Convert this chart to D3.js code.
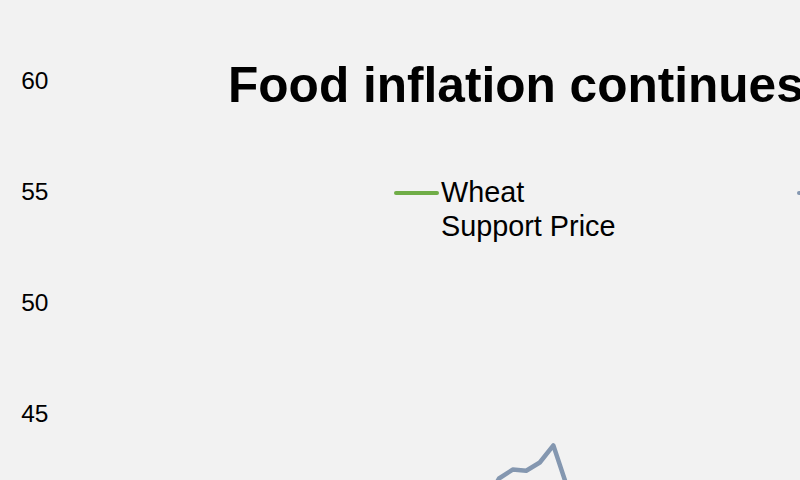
<!DOCTYPE html>
<html>
<head>
    <meta charset="utf-8">
    <title>Food inflation continues</title>
    <script src="https://cdn.jsdelivr.net/npm/d3@7"></script>
    <style>
        html, body { margin: 0; padding: 0; background: #F2F2F2; overflow: hidden; }
        svg { display: block; font-family: "Liberation Sans", Arial, sans-serif; }
        .title { font-size: 49.6px; font-weight: bold; fill: #000; }
        .legend text { font-size: 28.8px; fill: #000; }
    </style>
</head>
<body>
<script>
    // Données (partie visible du graphique)
    var yTicks = [45, 50, 55, 60];
    var seriesNames = ["Wheat Support Price", "Wheat Price"];
    var seriesColors = ["#70AD47", "#8497B0"];
    // indices de mois (portion visible)
    var months = [0, 1, 2, 3, 4, 5, 6, 7];
    var wheatPrice = [41.0, 42.05, 42.45, 42.4, 42.77, 43.54, 41.7, 40.6];

    var width = 800,
        height = 480;

    var svg = d3.select("body").append("svg")
        .attr("width", width)
        .attr("height", height);

    svg.append("rect")
        .attr("width", width)
        .attr("height", height)
        .attr("fill", "#F2F2F2");

    // Échelles
    var y = d3.scaleLinear().domain([40, 60]).range([524, 80]);
    var x = d3.scaleLinear().domain([0, 7]).range([485.5, 580.5]);

    // Axe Y (étiquettes seulement)
    var yAxis = d3.axisLeft(y).tickValues(yTicks).tickSize(0).tickPadding(0);
    var gy = svg.append("g")
        .attr("transform", "translate(48.5,0)")
        .call(yAxis);
    gy.select(".domain").remove();
    gy.selectAll("text")
        .attr("dy", "0.35em")
        .style("font-size", "24.5px")
        .style("font-family", "'Liberation Sans', Arial, sans-serif")
        .attr("fill", "#000");

    // Série
    var line = d3.line()
        .x(function(d, i) { return x(months[i]); })
        .y(function(d) { return y(d); });

    svg.append("path")
        .datum(wheatPrice)
        .attr("fill", "none")
        .attr("stroke", seriesColors[1])
        .attr("stroke-width", 4.5)
        .attr("stroke-linejoin", "round")
        .attr("stroke-linecap", "round")
        .attr("d", line);

    // Titre
    svg.append("text")
        .attr("class", "title")
        .attr("x", 228)
        .attr("y", 102)
        .text("Food inflation continues to rise");

    // Légende
    var legend = svg.append("g").attr("class", "legend");
    var item = legend.selectAll("g")
        .data(seriesNames)
        .enter().append("g")
        .attr("transform", function(d, i) { return "translate(" + (396 + i * 403) + ",193)"; });

    item.append("line")
        .attr("x1", 0).attr("x2", 41)
        .attr("stroke", function(d, i) { return seriesColors[i]; })
        .attr("stroke-width", 4)
        .attr("stroke-linecap", "round");

    item.append("text")
        .attr("x", 45)
        .attr("y", 8.5)
        .each(function(d) {
            var words = d.split(" ");
            var t = d3.select(this);
            t.append("tspan").attr("x", 45).text(words[0]);
            t.append("tspan").attr("x", 45).attr("dy", 34.5).text(words.slice(1).join(" "));
        });
</script>
</body>
</html>
